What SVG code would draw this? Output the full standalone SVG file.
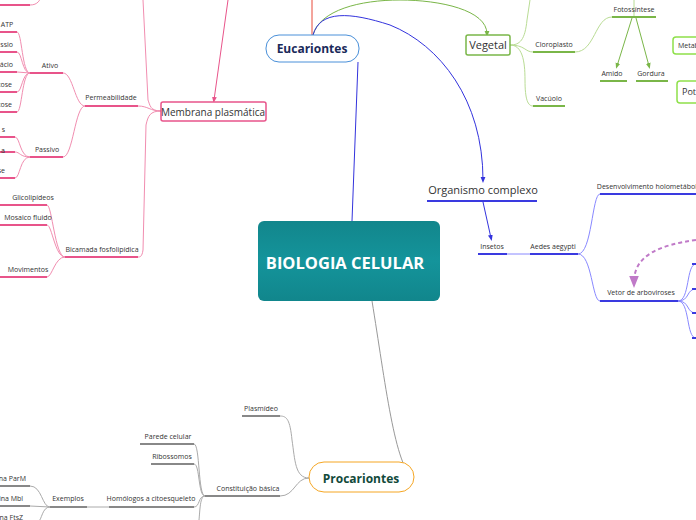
<svg xmlns="http://www.w3.org/2000/svg" width="696" height="520" viewBox="0 0 696 520">
<defs>
<linearGradient id="tg" x1="0" y1="0" x2="0" y2="1"><stop offset="0" stop-color="#12868c"/><stop offset="0.5" stop-color="#14949b"/><stop offset="1" stop-color="#11868c"/></linearGradient>
<marker id="ab" viewBox="0 0 10 10" refX="5" refY="5" markerWidth="6" markerHeight="6" orient="auto"><path d="M0,1 L10,5 L0,9 z" fill="#3333dd"/></marker>
<marker id="ag" viewBox="0 0 10 10" refX="5" refY="5" markerWidth="6" markerHeight="6" orient="auto"><path d="M0,1 L10,5 L0,9 z" fill="#7ab648"/></marker>
<marker id="ap" viewBox="0 0 10 10" refX="5" refY="5" markerWidth="6" markerHeight="6" orient="auto"><path d="M0,1 L10,5 L0,9 z" fill="#e8548a"/></marker>
<marker id="av" viewBox="0 0 10 10" refX="5" refY="5" markerWidth="6" markerHeight="6" orient="auto"><path d="M0,1 L10,5 L0,9 z" fill="#c07ac8"/></marker>
</defs>
<style>
text{font-family:"Open Sans","Noto Sans",sans-serif;fill:#333}
.s{font-size:7px}
.m{font-size:10px}
.pk{stroke:#f18db0;fill:none;stroke-width:1}
.pu{stroke:#e8548a;stroke-width:2}
.gk{stroke:#b9dc94;fill:none}
.gu{stroke:#7ab648;stroke-width:2}
.bk{stroke:#8888ff;fill:none}
.bu{stroke:#3a3ae0;stroke-width:2}
.yk{stroke:#aaa;fill:none}
.yu{stroke:#888;stroke-width:2}
</style>
<rect width="696" height="520" fill="#fff"/>
<g id="connectors" fill="none">
<path d="M352,221 L358,62" stroke="#3333dd"/>
<path d="M312,35 L312,0" stroke="#e84a3a"/>
<path d="M313,35 C320,10 360,0 400,0 C440,0 487,10 487,34" stroke="#7ab648" marker-end="url(#ag)"/>
<path d="M313,35 C320,10 350,12 390,25 C440,45 483,100 483,180" stroke="#3333dd" marker-end="url(#ab)"/>
<path d="M228,0 L214,100" stroke="#e8548a" marker-end="url(#ap)"/>
<path d="M372,301 C385,380 395,470 414,478" stroke="#999"/>
<path class="pk" d="M161,111 C150,111 150,105 148,100 L143,0 M161,111 C150,111 148,116 146,125 L143,250 C142,257 140,257 138,257 M161,111 C150,111 148,106 138,106"/>
<path class="pk" d="M85,106 C75,106 73,73 63,73 M85,106 C75,106 73,157 63,157"/>
<path class="pk" d="M30,73 C22,73 22,32 17,32 M30,73 C22,73 22,52 17,52 M30,73 L17,72 M30,73 C22,73 22,92 17,92 M30,73 C22,73 22,112 17,112"/>
<path class="pk" d="M30,157 C20,157 20,137 15,137 M30,157 C20,157 20,152 15,152 M30,157 C20,157 20,178 15,178"/>
<path class="pk" d="M65,257 C55,257 52,205 47,205 M65,257 C55,257 52,225 47,225 M65,257 C55,257 52,277 47,277"/>
<path class="pk" d="M30,5 C38,5 40,0 42,-5"/>
<path class="gk" d="M510,45 C520,45 525,40 527,20 L530,0 M510,45 C525,45 525,52 533,52 M510,45 C522,45 525,60 525,80 C525,100 528,106 533,106 M575,52 C595,52 595,17 612,17"/>
<path d="M632,18 L617,66" stroke="#7ab648" marker-end="url(#ag)"/>
<path d="M636,18 L649,66" stroke="#7ab648" marker-end="url(#ag)"/>
<path class="gk" d="M634,17 L634,0"/>
<path d="M483,202 L491,238" stroke="#3333dd" marker-end="url(#ab)"/>
<path class="bk" d="M507,254 L530,254 M578,254 C592,254 592,194 600,194 M578,254 C592,254 592,301 600,301 M678,301 C690,301 686,264 696,264 M678,301 C690,301 686,289 696,289 M678,301 C690,301 686,313 696,313 M678,301 C690,301 686,338 696,338"/>
<path d="M696,240 C660,245 634,255 634,282" stroke="#c07ac8" stroke-width="2" stroke-dasharray="4,3" marker-end="url(#av)"/>
<path class="yk" d="M309,478 C295,478 295,460 292,440 C290,420 287,416 280,416 M309,478 C295,478 295,496 280,496 M205,496 C198,496 200,444 194,444 M205,496 C198,496 200,464 194,464 M205,496 C198,496 200,507 194,507 M205,496 C200,496 200,510 199,520 M87,507 L109,507 M50,507 C42,507 42,486 30,486 M50,507 L30,506 M50,507 C42,507 42,520 38,522"/>
</g>
<g id="lines">
<line class="pu" x1="85" y1="106" x2="138" y2="106"/><line class="pu" x1="30" y1="73" x2="63" y2="73"/><line class="pu" x1="30" y1="157" x2="63" y2="157"/>
<line class="pu" x1="0" y1="32" x2="17" y2="32"/><line class="pu" x1="0" y1="52" x2="17" y2="52"/><line class="pu" x1="0" y1="72" x2="17" y2="72"/><line class="pu" x1="0" y1="92" x2="17" y2="92"/><line class="pu" x1="0" y1="112" x2="17" y2="112"/>
<line class="pu" x1="0" y1="137" x2="15" y2="137"/><line class="pu" x1="0" y1="152" x2="15" y2="152"/><line class="pu" x1="0" y1="178" x2="15" y2="178"/>
<line class="pu" x1="65" y1="257" x2="138" y2="257"/><line class="pu" x1="0" y1="205" x2="47" y2="205"/><line class="pu" x1="0" y1="225" x2="47" y2="225"/><line class="pu" x1="0" y1="277" x2="47" y2="277"/><line class="pu" x1="0" y1="5" x2="30" y2="5"/>
<line class="gu" x1="533" y1="52" x2="575" y2="52"/><line class="gu" x1="533" y1="106" x2="565" y2="106"/><line class="gu" x1="612" y1="17" x2="656" y2="17"/><line class="gu" x1="600" y1="81" x2="627" y2="81"/><line class="gu" x1="636" y1="81" x2="668" y2="81"/>
<line class="bu" x1="427" y1="201" x2="537" y2="201"/><line class="bu" x1="478" y1="254" x2="507" y2="254"/><line class="bu" x1="530" y1="254" x2="578" y2="254"/><line class="bu" x1="600" y1="194" x2="696" y2="194"/><line class="bu" x1="600" y1="301" x2="678" y2="301"/>
<line class="bu" x1="692" y1="264" x2="696" y2="264"/><line class="bu" x1="692" y1="289" x2="696" y2="289"/><line class="bu" x1="692" y1="313" x2="696" y2="313"/><line class="bu" x1="692" y1="338" x2="696" y2="338"/>
<line class="yu" x1="242" y1="416" x2="280" y2="416"/><line class="yu" x1="205" y1="496" x2="280" y2="496"/><line class="yu" x1="140" y1="444" x2="194" y2="444"/><line class="yu" x1="151" y1="464" x2="194" y2="464"/><line class="yu" x1="109" y1="507" x2="194" y2="507"/><line class="yu" x1="50" y1="507" x2="87" y2="507"/><line class="yu" x1="0" y1="486" x2="30" y2="486"/><line class="yu" x1="0" y1="506" x2="30" y2="506"/>
</g>
<g id="central"><rect x="258" y="221" width="182" height="80" rx="6" fill="url(#tg)"/><text x="345" y="269" text-anchor="middle" font-size="16.5" font-weight="bold" style="fill:#fff">BIOLOGIA CELULAR</text></g>
<g id="eucariontes"><rect x="266" y="35" width="93" height="27" rx="13" fill="#fff" stroke="#4a90d9"/><text x="312" y="53" text-anchor="middle" font-size="12" font-weight="bold" style="fill:#1a2a5a">Eucariontes</text></g>
<g id="procariontes"><rect x="309" y="462" width="105" height="30" rx="15" fill="#fff" stroke="#f5a623"/><text x="361" y="483" text-anchor="middle" font-size="12" font-weight="bold" style="fill:#124a3a">Procariontes</text></g>
<g id="membrana"><rect x="161" y="102" width="105" height="19" rx="2" fill="#fff" stroke="#e8548a" stroke-width="1.5"/><text x="213" y="115.5" text-anchor="middle" class="m">Membrana plasmática</text></g>
<g id="vegetal"><rect x="466" y="35" width="44" height="20" rx="2" fill="#fff" stroke="#7ab648" stroke-width="1.5"/><text x="488" y="49" text-anchor="middle" font-size="11">Vegetal</text></g>
<g id="metab"><rect x="673" y="37" width="30" height="17" rx="3" fill="#fff" stroke="#8ee04a" stroke-width="1.5"/><text x="678" y="48" class="s">Metab</text></g>
<g id="pote"><rect x="677" y="81" width="30" height="22" rx="3" fill="#fff" stroke="#8ee04a" stroke-width="1.5"/><text x="682" y="95" font-size="9">Pote</text></g>
<g id="labels" class="s" text-anchor="middle">
<text x="111" y="100">Permeabilidade</text><text x="50" y="68">Ativo</text><text x="47" y="152">Passivo</text>
<text x="7" y="27">ATP</text><text x="13" y="47" text-anchor="end">ssio</text><text x="13" y="67" text-anchor="end">ácio</text><text x="12" y="87" text-anchor="end">tose</text><text x="12" y="107" text-anchor="end">tose</text>
<text x="5" y="132" text-anchor="end">s</text><text x="5" y="153" text-anchor="end">a</text><text x="5" y="173" text-anchor="end">se</text>
<text x="102" y="252">Bicamada fosfolipídica</text><text x="33" y="200">Glicolipídeos</text><text x="28" y="220">Mosaico fluido</text><text x="28" y="272">Movimentos</text>
<text x="554" y="47">Cloroplasto</text><text x="549" y="101">Vacúolo</text><text x="634" y="12">Fotossíntese</text><text x="612" y="76">Amido</text><text x="651" y="76">Gordura</text>
<text x="483" y="194" font-size="11">Organismo complexo</text><text x="492" y="249">Insetos</text><text x="553" y="249">Aedes aegypti</text><text x="649" y="189">Desenvolvimento holometábolo</text><text x="641" y="295">Vetor de arboviroses</text>
<text x="261" y="411">Plasmídeo</text><text x="248" y="491">Constituição básica</text><text x="168" y="439">Parede celular</text><text x="172" y="459">Ribossomos</text><text x="151" y="501">Homólogos a citoesqueleto</text><text x="68" y="501">Exemplos</text>
<text x="26" y="481" text-anchor="end">na ParM</text><text x="23" y="501" text-anchor="end">ina Mbl</text><text x="23" y="520" text-anchor="end">ina FtsZ</text>
</g>
</svg>
